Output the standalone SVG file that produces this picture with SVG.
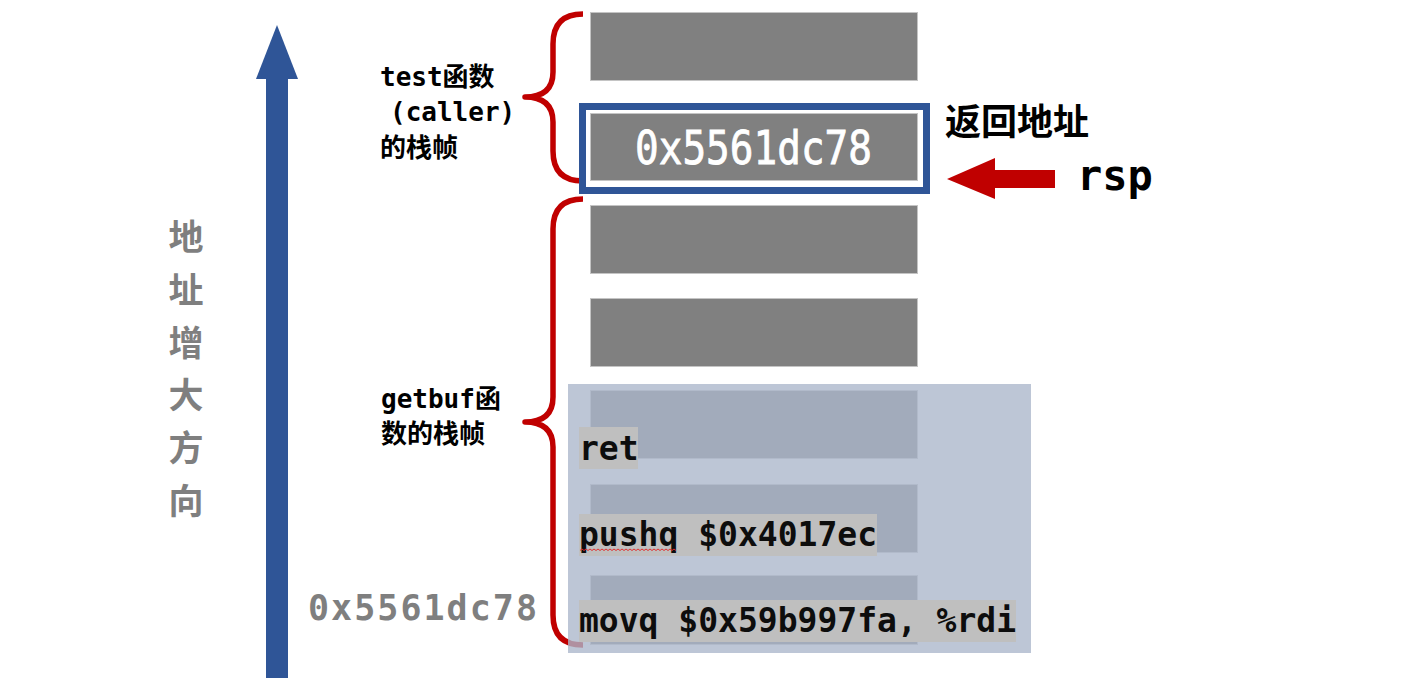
<svg xmlns="http://www.w3.org/2000/svg" width="1407" height="678" viewBox="0 0 1407 678">
<style>
.slot{fill:#808080;stroke:#c4c4c4;stroke-width:1}
.brace{fill:none;stroke:#C00000;stroke-width:5.5;stroke-linecap:butt;stroke-linejoin:round}
.lbl{font-family:"DejaVu Sans Mono","Noto Sans CJK SC",monospace;font-weight:bold;font-size:26px;fill:#000}
.code{font-family:"DejaVu Sans Mono","Liberation Mono",monospace;font-weight:bold;font-size:33px;fill:#0d0d0d}
.hl{fill:#bfbfbf}
.vt{font-family:"Noto Sans CJK SC",sans-serif;font-weight:bold;font-size:35px;fill:#7f7f7f}
</style>
<rect width="1407" height="678" fill="#ffffff"/>
<g id="connectors">
  <path id="brace-test" class="brace" d="M583,14 Q553,14 553,44 L553,72 Q553,97 525,97 Q553,97 553,122 L553,151 Q553,181 583,181"/>
  <path id="brace-getbuf" class="brace" d="M583,199 Q553,199 553,229 L553,397 Q553,422 525,422 Q553,422 553,447 L553,615 Q553,645 583,645"/>
  <g id="arrow-up">
    <rect x="266" y="78" width="22" height="600" fill="#2F5597"/>
    <polygon points="277,25 298,79 256,79" fill="#2F5597"/>
  </g>
  <polygon id="arrow-rsp" points="947,179 995,158 995,170 1055,170 1055,188 995,188 995,199" fill="#C00000"/>
</g>
<g id="slot1"><rect class="slot" x="590.5" y="12.5" width="327" height="68"/></g>
<g id="slot-ret-addr">
  <rect x="582.5" y="106.5" width="344" height="84" fill="#ffffff" stroke="#2F5597" stroke-width="7"/>
  <rect class="slot" x="590.5" y="113.5" width="327" height="67"/>
  <text x="753.5" y="164" text-anchor="middle" textLength="237" lengthAdjust="spacingAndGlyphs" font-family="DejaVu Sans Mono, monospace" font-size="46" fill="#ffffff" stroke="#ffffff" stroke-width="0.8">0x5561dc78</text>
</g>
<g id="slot3"><rect class="slot" x="590.5" y="205.5" width="327" height="68"/></g>
<g id="slot4"><rect class="slot" x="590.5" y="298.5" width="327" height="68"/></g>
<g id="slot5"><rect class="slot" x="590.5" y="390.5" width="327" height="68"/></g>
<g id="slot6"><rect class="slot" x="590.5" y="484.5" width="327" height="68"/></g>
<g id="slot7"><rect class="slot" x="590.5" y="575.5" width="327" height="69"/></g>
<g id="injected-code">
  <rect x="568" y="384" width="463" height="269" fill="#ABB7CB" fill-opacity="0.79"/>
  <rect class="hl" x="579" y="427" width="59" height="42"/>
  <text class="code" x="579" y="460">ret</text>
  <rect class="hl" x="579" y="514" width="298" height="42"/>
  <text class="code" x="579" y="546">pushq $0x4017ec</text>
  <path d="M580,550.5 l2,-1.5 l2,1.5 l2,-1.5 l2,1.5 l2,-1.5 l2,1.5 l2,-1.5 l2,1.5 l2,-1.5 l2,1.5 l2,-1.5 l2,1.5 l2,-1.5 l2,1.5 l2,-1.5 l2,1.5 l2,-1.5 l2,1.5 l2,-1.5 l2,1.5 l2,-1.5 l2,1.5 l2,-1.5 l2,1.5 l2,-1.5 l2,1.5 l2,-1.5 l2,1.5 l2,-1.5 l2,1.5 l2,-1.5 l2,1.5 l2,-1.5 l2,1.5 l2,-1.5 l2,1.5 l2,-1.5 l2,1.5 l2,-1.5 l2,1.5 l2,-1.5 l2,1.5 l2,-1.5 l2,1.5 l2,-1.5 l2,1.5 l2,-1.5 l2,1.5" fill="none" stroke="#e03030" stroke-width="1"/>
  <rect class="hl" x="579" y="600" width="437" height="42"/>
  <text class="code" x="579" y="632">movq $0x59b997fa, %rdi</text>
</g>
<g id="label-test">
  <text class="lbl" x="380" y="86">test函数</text>
  <text class="lbl" x="390" y="121">(caller)</text>
  <text class="lbl" x="380" y="157">的栈帧</text>
</g>
<g id="label-getbuf">
  <text class="lbl" x="381" y="408">getbuf函</text>
  <text class="lbl" x="381" y="443">数的栈帧</text>
</g>
<g id="label-ret-addr">
  <text x="945" y="135" font-family="Noto Sans CJK SC, sans-serif" font-weight="bold" font-size="36" fill="#000">返回地址</text>
</g>
<g id="label-rsp">
  <text x="1077" y="190" font-family="DejaVu Sans Mono, monospace" font-weight="bold" font-size="42" fill="#000">rsp</text>
</g>
<g id="label-addr">
  <text x="308" y="620" textLength="229" lengthAdjust="spacing" font-family="DejaVu Sans Mono, monospace" font-weight="bold" font-size="35" fill="#7f7f7f">0x5561dc78</text>
</g>
<g id="label-direction">
  <text class="vt" x="186" y="250" text-anchor="middle">地</text>
  <text class="vt" x="186" y="303" text-anchor="middle">址</text>
  <text class="vt" x="186" y="356" text-anchor="middle">增</text>
  <text class="vt" x="186" y="408" text-anchor="middle">大</text>
  <text class="vt" x="186" y="461" text-anchor="middle">方</text>
  <text class="vt" x="186" y="514" text-anchor="middle">向</text>
</g>
</svg>
